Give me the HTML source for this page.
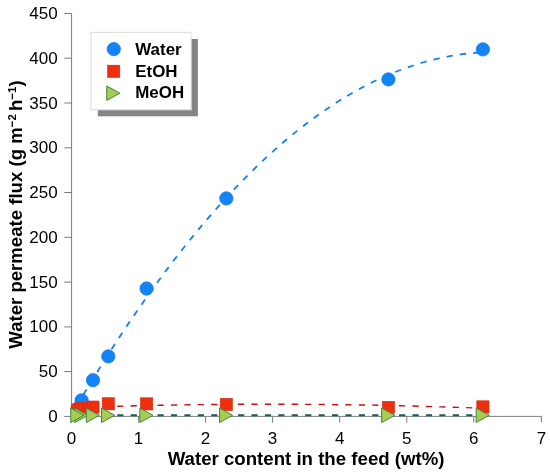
<!DOCTYPE html>
<html><head><meta charset="utf-8">
<style>
html,body{margin:0;padding:0;background:#fff;}
svg{display:block;}
text{font-family:"Liberation Sans",Arial,sans-serif;fill:#000;}
.tk{font-size:17px;}
.b{font-weight:bold;}
</style></head><body>
<svg width="550" height="474" viewBox="0 0 550 474">
<rect width="550" height="474" fill="#fff"/>
<!-- axes -->
<g stroke="#747474" stroke-width="0.95" fill="none">
<path d="M71.6 13.5V416.4"/><path d="M71.1 416.4H541.9" stroke="#7c7c7c"/>
<path d="M64.3 416.4H71.6M64.3 371.6H71.6M64.3 326.9H71.6M64.3 282.1H71.6M64.3 237.3H71.6M64.3 192.5H71.6M64.3 147.8H71.6M64.3 103.0H71.6M64.3 58.2H71.6M64.3 13.5H71.6"/>
<path d="M71.5 416.4V422.6M138.6 416.4V422.6M205.6 416.4V422.6M272.6 416.4V422.6M339.7 416.4V422.6M406.8 416.4V422.6M473.8 416.4V422.6M541.4 416.4V422.6"/>
</g>
<g class="tk" text-anchor="end">
<text x="57.7" y="421.9">0</text>
<text x="57.7" y="377.1">50</text>
<text x="57.7" y="332.4">100</text>
<text x="57.7" y="287.6">150</text>
<text x="57.7" y="242.8">200</text>
<text x="57.7" y="198.0">250</text>
<text x="57.7" y="153.3">300</text>
<text x="57.7" y="108.5">350</text>
<text x="57.7" y="63.7">400</text>
<text x="57.7" y="19.0">450</text>
</g>
<g class="tk" text-anchor="middle">
<text x="71.5" y="444.2">0</text>
<text x="138.6" y="444.2">1</text>
<text x="205.6" y="444.2">2</text>
<text x="272.6" y="444.2">3</text>
<text x="339.7" y="444.2">4</text>
<text x="406.8" y="444.2">5</text>
<text x="473.8" y="444.2">6</text>
<text x="541.4" y="444.2">7</text>
</g>
<text class="b" x="306.1" y="464.8" text-anchor="middle" font-size="18.65">Water content in the feed (wt%)</text>
<text class="b" transform="translate(22.3,214.5) rotate(-90)" text-anchor="middle" font-size="18.6">Water permeate flux (g m<tspan font-size="11.5" dy="-6">−2 </tspan><tspan dy="6">h</tspan><tspan font-size="11.5" dy="-6">−1</tspan><tspan dy="6">)</tspan></text>
<path d="M76.7 405.9 L83.6 394.3 L90.5 382.9 L97.4 371.7 L104.2 360.7 L111.1 349.9 L118.0 339.3 L124.9 328.9 L131.8 318.7 L138.7 308.6 L145.6 298.8 L152.5 289.1 L159.3 279.7 L166.2 270.4 L173.1 261.3 L180.0 252.4 L186.9 243.7 L193.8 235.2 L200.7 226.9 L207.5 218.8 L214.4 210.9 L221.3 203.2 L228.2 195.7 L235.1 188.3 L242.0 181.2 L248.9 174.2 L255.7 167.5 L262.6 160.9 L269.5 154.5 L276.4 148.3 L283.3 142.3 L290.2 136.5 L297.1 130.9 L304.0 125.5 L310.8 120.3 L317.7 115.3 L324.6 110.4 L331.5 105.8 L338.4 101.3 L345.3 97.1 L352.2 93.0 L359.0 89.2 L365.9 85.5 L372.8 82.0 L379.7 78.7 L386.6 75.6 L393.5 72.7 L400.4 70.0 L407.2 67.5 L414.1 65.1 L421.0 63.0 L427.9 61.1 L434.8 59.3 L441.7 57.7 L448.6 56.4 L455.5 55.2 L462.3 54.2 L469.2 53.4 L476.1 52.8 L483.0 52.4" fill="none" stroke="#1680ea" stroke-width="1.8" stroke-dasharray="6.3 7.12" stroke-dashoffset="0.6"/>
<path d="M77.0 407.7 L87.4 407.3 L97.8 406.9 L108.2 406.6 L118.6 406.3 L129.1 406.0 L139.5 405.7 L149.9 405.5 L160.3 405.3 L170.7 405.1 L181.1 404.9 L191.5 404.7 L201.9 404.6 L212.3 404.5 L222.7 404.4 L233.2 404.3 L243.6 404.3 L254.0 404.2 L264.4 404.2 L274.8 404.2 L285.2 404.2 L295.6 404.3 L306.0 404.4 L316.4 404.4 L326.8 404.5 L337.3 404.7 L347.7 404.8 L358.1 405.0 L368.5 405.1 L378.9 405.3 L389.3 405.6 L399.7 405.8 L410.1 406.0 L420.5 406.3 L430.9 406.6 L441.4 406.9 L451.8 407.2 L462.2 407.5 L472.6 407.9 L483.0 408.2" fill="none" stroke="#c40c0c" stroke-width="1.4" stroke-dasharray="6.2 7.22"/>
<path d="M77 415.2 L483 415.2" fill="none" stroke="#1f5a5a" stroke-width="2" stroke-dasharray="6.2 7.22"/>
<g fill="#1384f7" stroke="#167ae8" stroke-width="0.8">
<circle cx="77.5" cy="408.8" r="6.65"/>
<circle cx="81.6" cy="400.3" r="6.65"/>
<circle cx="93.0" cy="380.2" r="6.65"/>
<circle cx="108.3" cy="356.4" r="6.65"/>
<circle cx="146.6" cy="288.5" r="6.65"/>
<circle cx="226.3" cy="198.4" r="6.65"/>
<circle cx="388.4" cy="79.4" r="6.65"/>
<circle cx="482.9" cy="49.4" r="6.65"/>
</g>
<g fill="#ee2e0e" stroke="#d3280e" stroke-width="0.6">
<rect x="75.5" y="402.2" width="12.2" height="12.2"/>
<rect x="71.4" y="404.0" width="12.2" height="12.2"/>
<rect x="86.9" y="401.0" width="12.2" height="12.2"/>
<rect x="102.2" y="397.7" width="12.2" height="12.2"/>
<rect x="140.5" y="397.8" width="12.2" height="12.2"/>
<rect x="220.2" y="398.4" width="12.2" height="12.2"/>
<rect x="382.3" y="401.3" width="12.2" height="12.2"/>
<rect x="476.8" y="400.8" width="12.2" height="12.2"/>
</g>
<g fill="#a6cc52" stroke="#418640" stroke-width="1" stroke-linejoin="miter">
<path d="M-6.75 -7.25 L6.4 0 L-6.75 7.25 Z" transform="translate(81.6,415.3)"/>
<path d="M-6.75 -7.25 L6.4 0 L-6.75 7.25 Z" transform="translate(77.5,415.3)"/>
<path d="M-6.75 -7.25 L6.4 0 L-6.75 7.25 Z" transform="translate(93.0,415.3)"/>
<path d="M-6.75 -7.25 L6.4 0 L-6.75 7.25 Z" transform="translate(108.3,415.3)"/>
<path d="M-6.75 -7.25 L6.4 0 L-6.75 7.25 Z" transform="translate(146.6,415.3)"/>
<path d="M-6.75 -7.25 L6.4 0 L-6.75 7.25 Z" transform="translate(226.3,415.3)"/>
<path d="M-6.75 -7.25 L6.4 0 L-6.75 7.25 Z" transform="translate(388.4,415.3)"/>
<path d="M-6.75 -7.25 L6.4 0 L-6.75 7.25 Z" transform="translate(482.9,415.3)"/>
</g>
<!-- legend -->
<rect x="97.8" y="39" width="100.1" height="77.3" fill="#858585"/>
<rect x="90.9" y="32.400" width="100.2" height="77.3" fill="#fff" stroke="#e0e0e0" stroke-width="1.2"/>
<circle cx="113.8" cy="49.1" r="6.65" fill="#1384f7" stroke="#167ae8" stroke-width="0.8"/>
<rect x="107.600" y="65.200" width="12.2" height="12.200" fill="#ee2e0e" stroke="#d3280e" stroke-width="0.6"/>
<path d="M-6.75 -7.25 L6.4 0 L-6.75 7.25 Z" transform="translate(113.5,93.2)" fill="#a6cc52" stroke="#418640" stroke-width="1"/>
<g class="b" font-size="16.9">
<text x="135.3" y="54.5">Water</text>
<text x="135.3" y="76.5">EtOH</text>
<text x="135.3" y="98.2">MeOH</text>
</g>
</svg>
</body></html>
